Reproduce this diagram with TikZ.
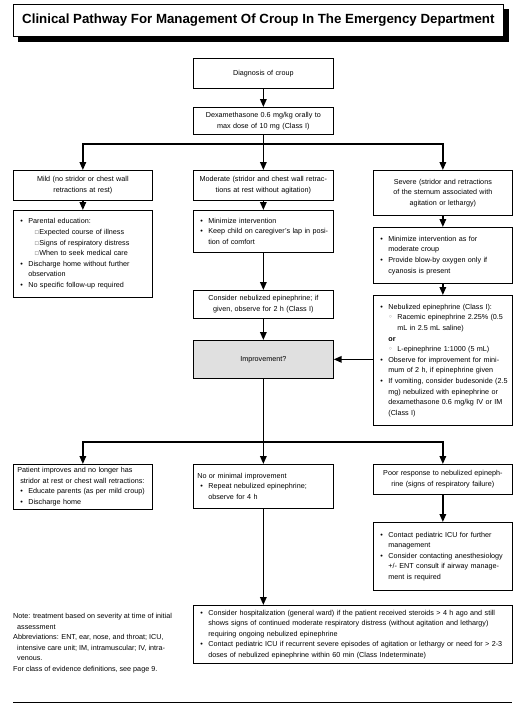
\documentclass[tikz,border=0pt]{standalone}
\usepackage{fontspec}
\setmainfont{Liberation Sans}
\newfontfamily\dejavu{DejaVu Sans}
\usetikzlibrary{arrows.meta,calc}
\newcommand{\bi}[1]{\mbox{\hspace*{3pt}\makebox[8pt][l]{\textbullet}#1}}
\newcommand{\ci}[1]{\mbox{\hspace*{11pt}#1}}
\newcommand{\sqb}[1]{\mbox{\hspace*{17pt}\makebox[5pt][l]{\textcolor{gray}{\dejavu ▫}}#1}}
\newcommand{\crb}[1]{\mbox{\hspace*{11pt}\makebox[9pt][l]{\textcolor{gray}{\dejavu ◦}}#1}}
\newcommand{\cci}[1]{\mbox{\hspace*{20pt}#1}}
\begin{document}
\begin{tikzpicture}[x=1pt,y=-1pt,
  box/.style={draw,line width=0.7pt,anchor=north west,inner xsep=4pt,inner ysep=3pt,
    font=\fontsize{7.2}{10.6}\selectfont},
  cbox/.style={box,align=center},
  lbox/.style={box,align=left},
  link/.style={line width=1.6pt},
  arr/.style={line width=1.6pt,-{Triangle[length=8pt,width=6.5pt]}}]
\useasboundingbox (0,0) rectangle (527,715);
% title
\fill[black] (18,9) rectangle (509,42);
\node[draw,fill=white,line width=0.7pt,anchor=north west,minimum width=490pt,minimum height=32pt,
  font=\fontsize{13.3}{15}\selectfont\bfseries] (title) at (13,4)
  {Clinical Pathway For Management Of Croup In The Emergency Department};
% top
\node[cbox,text width=132pt,minimum height=30pt] (diag) at (193,58) {Diagnosis of croup};
\node[cbox,text width=132pt,minimum height=27pt] (dex) at (193,107)
  {Dexamethasone 0.6 mg/kg orally to\\max dose of 10 mg (Class I)};
% level 1
\node[cbox,text width=131pt,minimum height=30pt] (mild) at (13,170)
  {Mild (no stridor or chest wall\\retractions at rest)};
\node[cbox,text width=132pt,minimum height=30pt] (mod) at (193,170)
  {Moderate (stridor and chest wall retrac-\\tions at rest without agitation)};
\node[cbox,text width=131pt,minimum height=45pt] (sev) at (373,170)
  {Severe (stridor and retractions\\of the sternum associated with\\agitation or lethargy)};
% level 2
\node[lbox,text width=131pt,minimum height=87pt] (mildb) at (13,210)
  {\bi{Parental education:}\\
   \sqb{Expected course of illness}\\
   \sqb{Signs of respiratory distress}\\
   \sqb{When to seek medical care}\\
   \bi{Discharge home without further}\\
   \ci{observation}\\
   \bi{No specific follow-up required}};
\node[lbox,text width=132pt,minimum height=42pt] (modb) at (193,210)
  {\bi{Minimize intervention}\\
   \bi{Keep child on caregiver's lap in posi-}\\
   \ci{tion of comfort}};
\node[lbox,text width=131pt,minimum height=56pt] (sevb) at (373,227)
  {\bi{Minimize intervention as for}\\
   \ci{moderate croup}\\
   \bi{Provide blow-by oxygen only if}\\
   \ci{cyanosis is present}};
\node[cbox,text width=132pt,minimum height=28pt] (cons) at (193,290)
  {Consider nebulized epinephrine; if\\given, observe for 2 h (Class I)};
\node[lbox,text width=131pt,minimum height=130pt] (sevneb) at (373,295)
  {\bi{Nebulized epinephrine (Class I):}\\
   \crb{Racemic epinephrine 2.25\% (0.5}\\
   \cci{mL in 2.5 mL saline)}\\
   \ci{\textbf{or}}\\
   \crb{L-epinephrine 1:1000 (5 mL)}\\
   \bi{Observe for improvement for mini-}\\
   \ci{mum of 2 h, if epinephrine given}\\
   \bi{If vomiting, consider budesonide (2.5}\\
   \ci{mg) nebulized with epinephrine or}\\
   \ci{dexamethasone 0.6 mg/kg IV or IM}\\
   \ci{(Class I)}};
\node[cbox,fill=black!12,text width=132pt,minimum height=38pt] (impr) at (193,340) {Improvement?};
% level 3
\node[lbox,text width=131pt,minimum height=42pt] (pat) at (13,464)
  {\mbox{Patient improves and no longer has}\\
   \mbox{\hspace*{3pt}stridor at rest or chest wall retractions:}\\
   \bi{Educate parents (as per mild croup)}\\
   \bi{Discharge home}};
\node[lbox,text width=132pt,minimum height=44pt] (nomin) at (193,464)
  {\mbox{No or minimal improvement}\\
   \bi{Repeat nebulized epinephrine;}\\
   \ci{observe for 4 h}};
\node[cbox,text width=131pt,minimum height=30pt] (poor) at (373,464)
  {Poor response to nebulized epineph-\\rine (signs of respiratory failure)};
\node[lbox,text width=131pt,minimum height=68pt] (icu) at (373,522)
  {\bi{Contact pediatric ICU for further}\\
   \ci{management}\\
   \bi{Consider contacting anesthesiology}\\
   \ci{+/- ENT consult if airway manage-}\\
   \ci{ment is required}};
\node[lbox,text width=311pt,minimum height=58pt] (hosp) at (193,605)
  {\bi{Consider hospitalization (general ward) if the patient received steroids > 4 h ago and still}\\
   \ci{shows signs of continued moderate respiratory distress (without agitation and lethargy)}\\
   \ci{requiring ongoing nebulized epinephrine}\\
   \bi{Contact pediatric ICU if recurrent severe episodes of agitation or lethargy or need for > 2-3}\\
   \ci{doses of nebulized epinephrine within 60 min (Class Indeterminate)}};
\node[anchor=north west,align=left,inner sep=0pt,font=\fontsize{7.2}{10.6}\selectfont] (note) at (13,613)
  {Note: treatment based on severity at time of initial\\
   \hspace*{4pt}assessment\\
   Abbreviations: ENT, ear, nose, and throat; ICU,\\
   \hspace*{4pt}intensive care unit; IM, intramuscular; IV, intra-\\
   \hspace*{4pt}venous.\\
   For class of evidence definitions, see page 9.};
\coordinate (rl) at (13,702);
\coordinate (rr) at (512,702);
\draw[line width=0.7pt] (rl) -- (rr);
% connectors
\coordinate (j1) at ($(dex.south)+(0,9)$);
\coordinate (j2) at ($(impr.south)+(0,63)$);
\draw[arr] (diag) -- (dex);
\draw[link] (dex.south) -- (j1);
\draw[arr] (j1) -| (mild.north);
\draw[arr] (j1) -- (mod.north);
\draw[arr] (j1) -| (sev.north);
\draw[arr] (mild) -- (mildb);
\draw[arr] (mod) -- (modb);
\draw[arr] (modb) -- (cons);
\draw[arr] (cons) -- (impr);
\draw[arr] (sev) -- (sevb);
\draw[arr] (sevb) -- (sevneb);
\draw[arr] (sevneb.west |- impr.east) -- (impr.east);
\draw[link] (impr.south) -- (j2);
\draw[arr] (j2) -| (pat.north);
\draw[arr] (j2) -- (nomin.north);
\draw[arr] (j2) -| (poor.north);
\draw[arr] (poor) -- (icu);
\draw[arr] (nomin.south) -- (nomin.south |- hosp.north);
\end{tikzpicture}
\end{document}
